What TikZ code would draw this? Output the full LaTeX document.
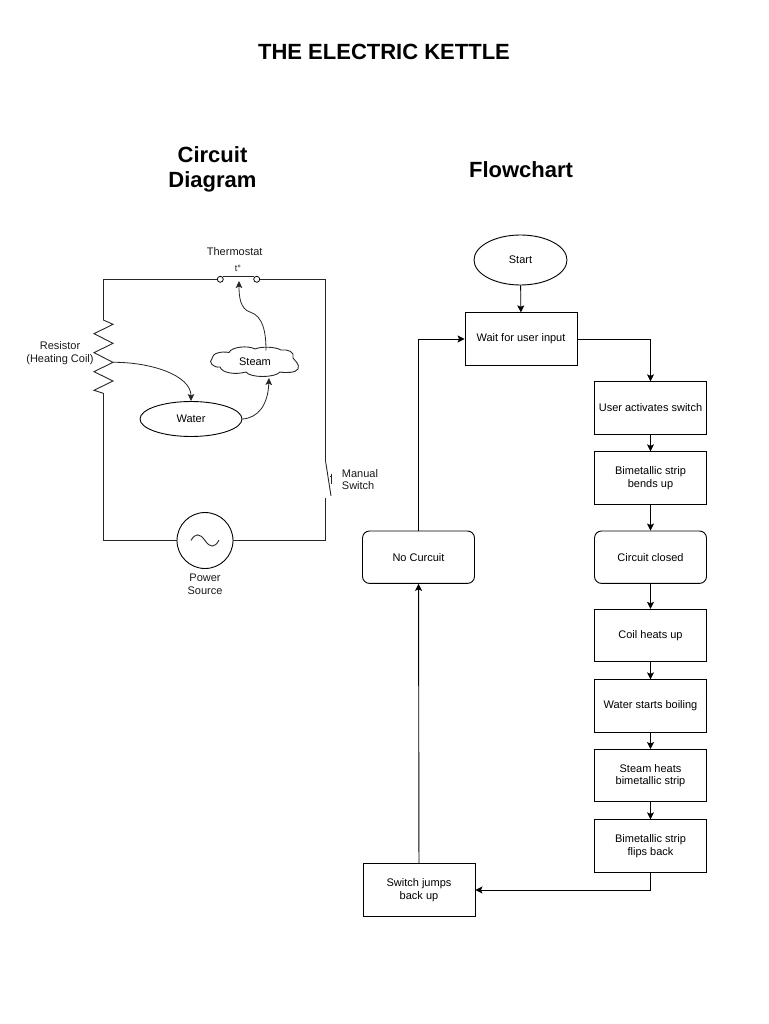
\documentclass[tikz,border=0pt]{standalone}
\usepackage{fontspec}
\setmainfont{Liberation Sans}
\usetikzlibrary{arrows.meta,shapes.geometric,calc}
\tikzset{
  x=1pt,y=-1pt,
  wire/.style={line width=0.9pt,black!85},
  flow/.style={line width=0.9pt,black,-{Stealth[length=7pt,width=7pt,inset=1.5pt]}},
  thin arrow/.style={line width=0.8pt,black!85,-{Stealth[length=7pt,width=6.5pt,inset=1.5pt]}},
  lbl/.style={font=\fontsize{11}{12.5}\selectfont,align=center,inner sep=0pt,text=black!90},
  head/.style={font=\fontsize{22}{25}\selectfont\bfseries,align=center,inner sep=0pt},
  fbox/.style={draw,line width=0.9pt,black,minimum width=112pt,minimum height=52.4pt,inner sep=0pt,align=center,font=\fontsize{11}{12.5}\selectfont},
  rbox/.style={fbox,rounded corners=7pt},
  oval/.style={ellipse,draw,line width=0.9pt,inner sep=0pt,font=\fontsize{11}{12.5}\selectfont},
  term/.style={circle,draw,line width=0.8pt,fill=white,minimum size=6pt,inner sep=0pt}
}
\begin{document}
\begin{tikzpicture}
\useasboundingbox (0,0) rectangle (768,1024);
% titles
\node[head] (title) at (384,51.5) {THE ELECTRIC KETTLE};
\node[head] (t1) at (212.5,169.5) {Circuit\\Diagram};
\node[head] (t2) at (521,170) {Flowchart};
% circuit coordinates
\coordinate (rtop) at (103.3,320);
\coordinate (rbot) at (103.3,393.3);
\coordinate (rtap) at (113,362.3);
\coordinate (cTL) at (103.3,279.3);
\coordinate (cTR) at (325.7,279.3);
\coordinate (cBL) at (103.3,540.5);
\coordinate (cBR) at (325.7,540.5);
\coordinate (swT) at (325.7,462);
\coordinate (swB) at (325.7,498);
\coordinate (swE) at (331,496);
\coordinate (thermo) at (239,281);
\node[term] (tl) at (220.3,279.3) {};
\node[term] (tr) at (256.7,279.3) {};
\node[circle,draw,line width=0.9pt,minimum size=56pt,inner sep=0pt] (src) at (205,540.5) {};
% wires
\draw[wire] (rtop) -- (cTL) -- (tl);
\draw[wire] (tr) -- (cTR) -- (swT);
\draw[wire] (swT) -- (swE);
\draw[wire] (swB) -- (cBR) -- (src);
\draw[wire] (src) -- (cBL) -- (rbot);
\draw[wire] (tl.north east) -- (tr.north west);
\draw[wire] (330,476) -- (331.8,476) (331.8,473.5) -- (331.8,483.5);
\draw[wire,line join=miter] (rtop) -- (113,324.3) -- (94,333.7) -- (113,343.3) -- (94,352.7) -- (rtap) -- (94,371.7) -- (113,381) -- (94,390.3) -- (rbot);
% sine
\draw[line width=0.9pt,black!85] (191,540.5) .. controls (195,533) and (200,533) .. (205,540.5) .. controls (210,548) and (215,548) .. (219,540);
% nodes
\node[oval,minimum width=102pt,minimum height=35pt] (water) at (191,419) {Water};
\node[inner sep=0pt,minimum width=86pt,minimum height=30pt,font=\fontsize{11}{12.5}\selectfont] (steam) at (255,361.5) {Steam};
\draw[line width=0.9pt,black!85] (212,358.5)
  .. controls (212,353) and (222,351) .. (229,352.5)
  .. controls (231,347) and (248,345) .. (255,349)
  .. controls (262,346) and (276,347) .. (281,350)
  .. controls (288,349) and (295,352) .. (293,358)
  .. controls (295,361) and (300,364) .. (298,369)
  .. controls (296,373) and (285,373) .. (280,372)
  .. controls (275,378) and (250,378) .. (246,372)
  .. controls (235,375) and (222,373) .. (220,367)
  .. controls (213,368) and (208,362) .. (212,358.5) -- cycle;
\coordinate (steamT) at (266,350.5);
\coordinate (steamB) at (269,378);
% labels
\node[lbl] (lthermo) at (234.7,251.5) {Thermostat};
\node[lbl,font=\fontsize{9}{10}\selectfont] (lt) at (238,268.5) {t°};
\node[lbl] (lres) at (60,353) {Resistor\\(Heating Coil)};
\node[lbl,align=left] (lman) at (360,479.5) {Manual\\Switch};
\node[lbl] (lpow) at (205,584.5) {Power\\Source};
% curved arrows
\draw[thin arrow] (rtap) .. controls (150,362) and (191,375) .. (water.north);
\draw[thin arrow] (water.east) .. controls (258,418) and (268,405) .. (steamB);
\draw[thin arrow] (steamT) .. controls (266,332) and (263,316) .. (250,312) .. controls (240,309) and (239,296) .. (thermo);
% flow nodes
\node[oval,minimum width=93pt,minimum height=50pt] (start) at (520.5,260) {Start};
\node[fbox] (wait) at (521,339) {Wait for user input};
\node[fbox] (user) at (650.5,408) {User activates switch};
\node[fbox] (bend) at (650.5,478) {Bimetallic strip\\bends up};
\node[rbox] (closed) at (650.5,557.2) {Circuit closed};
\node[fbox] (coil) at (650.5,635.5) {Coil heats up};
\node[fbox] (boil) at (650.5,706) {Water starts boiling};
\node[fbox] (heat) at (650.5,775.7) {Steam heats\\bimetallic strip};
\node[fbox] (flip) at (650.5,846) {Bimetallic strip\\flips back};
\node[rbox] (nocur) at (418.5,557.2) {No Curcuit};
\node[fbox] (jump) at (419,890) {Switch jumps\\back up};
% flow connectors
\draw[flow] (start) -- (wait);
\draw[flow] (wait.east) -| (user.north);
\draw[flow] (user) -- (bend);
\draw[flow] (bend) -- (closed);
\draw[flow] (closed) -- (coil);
\draw[flow] (coil) -- (boil);
\draw[flow] (boil) -- (heat);
\draw[flow] (heat) -- (flip);
\draw[flow] (flip.south) |- (jump.east);
\draw[flow] (jump) -- (nocur);
\draw[flow] (nocur.north) |- (wait.west);
\end{tikzpicture}
\end{document}
